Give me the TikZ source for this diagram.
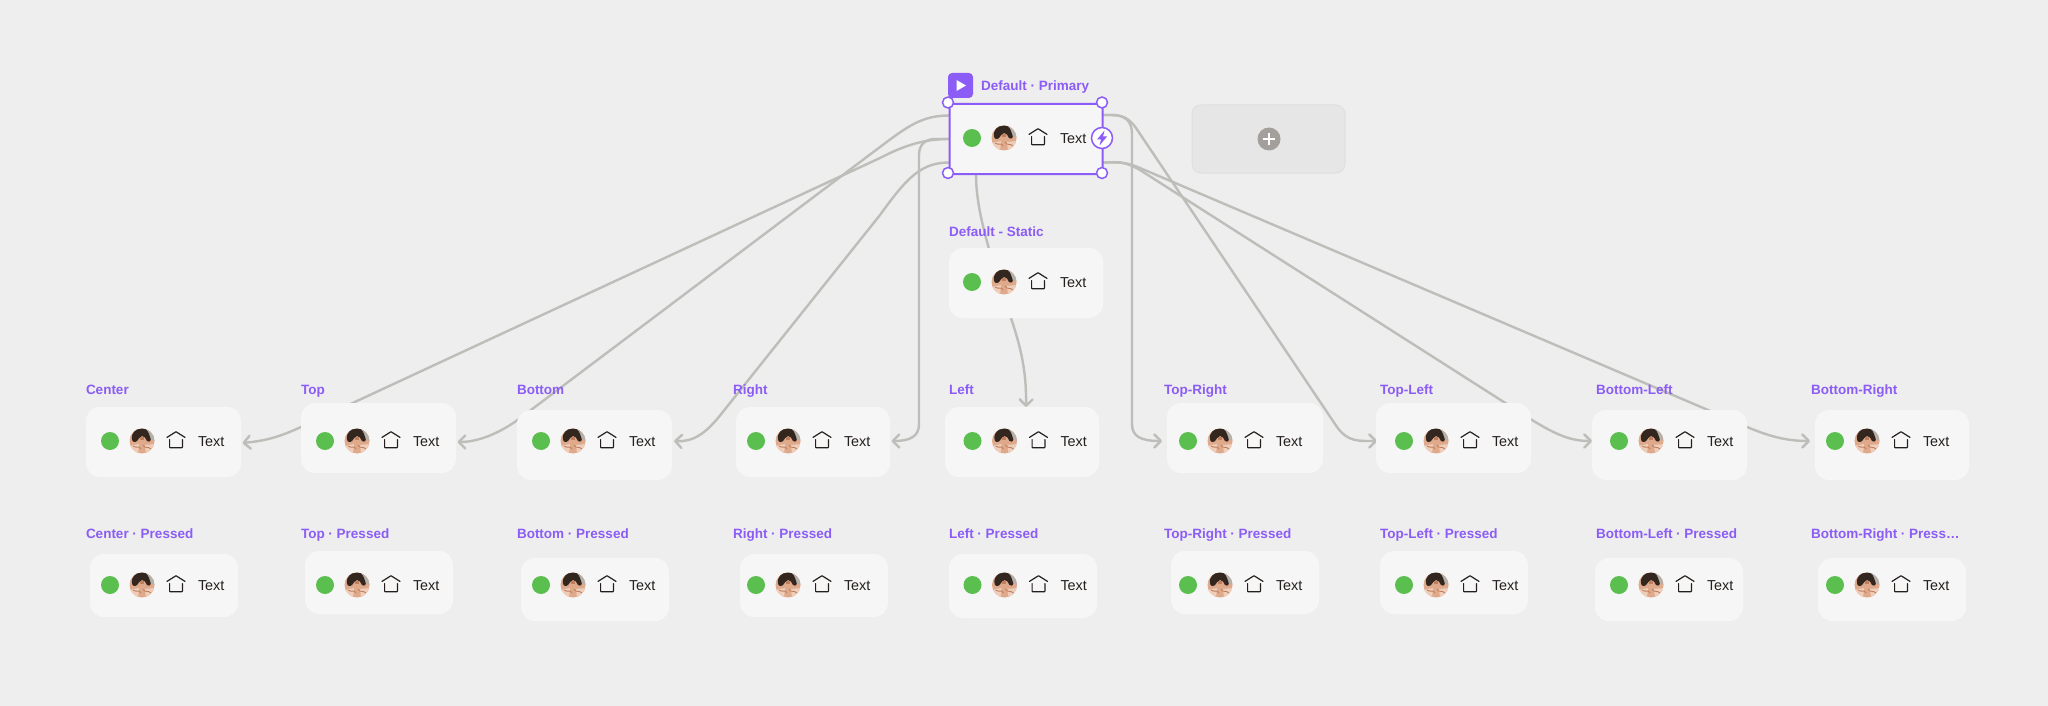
\documentclass[tikz,border=0pt]{standalone}
\usepackage{fontspec}
\setmainfont{Liberation Sans}
\usetikzlibrary{arrows.meta,calc}
\pgfdeclarelayer{paper}
\pgfdeclarelayer{wires}
\pgfsetlayers{paper,wires,main}
\definecolor{bgc}{HTML}{EEEEEE}
\definecolor{cardc}{HTML}{F6F6F6}
\definecolor{purp}{HTML}{8B5CF6}
\definecolor{wirec}{HTML}{BDBDB9}
\definecolor{greenc}{HTML}{5BBF50}
\definecolor{inkc}{HTML}{241F1C}
\definecolor{addc}{HTML}{E6E6E6}
\definecolor{addl}{HTML}{DFDFDF}
\definecolor{plusc}{HTML}{A3A09C}
\definecolor{skinc}{HTML}{DFAA8B}
\definecolor{hairc}{HTML}{33261F}
\definecolor{shadec}{HTML}{BE7F5F}
\definecolor{greyc}{HTML}{B5B0AA}
\definecolor{lightc}{HTML}{EFCDB8}
\tikzset{
  x=1pt,y=-1pt,
  cardn/.style={rectangle,rounded corners=14pt,fill=cardc,inner sep=0pt,outer sep=0pt},
  labeln/.style={anchor=base west,inner sep=0pt,outer sep=0pt,text=purp,font=\fontsize{13.5}{16}\selectfont\bfseries},
  textn/.style={anchor=base west,inner sep=0pt,outer sep=0pt,text=inkc,font=\fontsize{14.4}{16}\selectfont},
  dotn/.style={circle,fill=greenc,minimum size=18pt,inner sep=0pt,outer sep=0pt},
  avatarn/.style={circle,minimum size=25pt,inner sep=0pt,outer sep=0pt,fill=skinc,path picture={
    \begin{scope}[shift={(path picture bounding box.center)}]
      \fill[greyc] (3,-13) -- (13,-9) -- (13,0) -- (7,-3) -- cycle;
      \fill[lightc] (-13,5) -- (-3,3) -- (-4,13) -- (-13,13) -- cycle;
      \fill[lightc] (3,4) -- (13,3) -- (13,13) -- (4,13) -- cycle;
      \fill[hairc] (-10,-2) .. controls (-11,-9) and (-5,-13) .. (0,-13)
        .. controls (5,-13) and (7,-8) .. (8,-4)
        .. controls (10,-1) and (8,2) .. (5,0)
        .. controls (4,-3) and (2,-5) .. (0,-5)
        .. controls (-2,-5) and (-3,-2) .. (-5,0)
        .. controls (-7,2) and (-10,1) .. (-10,-2) -- cycle;
      \fill[shadec] (-2.5,-4) rectangle (1.5,-1);
      \draw[shadec,line width=0.9pt] (-9,5) .. controls (-5,8) and (-3,4) .. (-1,8);
      \draw[shadec,line width=0.9pt] (1,4) .. controls (3,8) and (6,5) .. (9,8);
    \end{scope}}},
  wire/.style={draw=wirec,line width=2.4pt,line cap=round,line join=round},
  arrowwire/.style={wire,-{Straight Barb[length=6.5pt,width=13pt,round]}},
  handlen/.style={circle,fill=white,draw=purp,line width=1.5pt,minimum size=11pt,inner sep=0pt,outer sep=0pt},
  housei/.style={draw=inkc,line width=1.2pt,line join=round,line cap=round,rounded corners=0.6pt},
}
% name, x1, y1, x2, y2
\newcommand{\cardbox}[5]{%
  \pgfmathsetmacro{\cw}{#4-#2}\pgfmathsetmacro{\ch}{#5-#3}%
  \pgfmathsetmacro{\cx}{(#4+#2)/2}\pgfmathsetmacro{\cy}{(#5+#3)/2}%
  \node[cardn,minimum width=\cw pt,minimum height=\ch pt] (#1) at (\cx,\cy) {};%
}
% name, dot x, content y
\newcommand{\cardcontent}[3]{%
  \begin{scope}[shift={(#2,#3)}]
    \node[dotn] (#1-dot) at (0,0) {};
    \node[avatarn] (#1-avatar) at (32,0) {};
    \draw[housei] (57,-3.6) -- (66,-9.3) -- (75,-3.6);
    \draw[housei] (59.6,-1.4) -- (59.6,6.8) -- (72.4,6.8) -- (72.4,-1.4);
    \node[textn] (#1-text) at (88,5.3) {Text};
  \end{scope}%
}
\begin{document}
\begin{tikzpicture}
\useasboundingbox (0,0) rectangle (2048,706);
\begin{pgfonlayer}{paper}
  \fill[bgc] (0,0) rectangle (2048,706);
\end{pgfonlayer}

% Top cards
\node[cardn,draw=purp,line width=2pt,rounded corners=1pt,minimum width=153pt,minimum height=70pt] (primary) at (1026,139) {};
\cardcontent{primary}{972}{138}
\node[handlen] (h1) at (948,102.5) {};
\node[handlen] (h2) at (1102,102.5) {};
\node[handlen] (h3) at (948,173) {};
\node[handlen] (h4) at (1102,173) {};
\node[circle,fill=white,draw=purp,line width=1.5pt,minimum size=21pt,inner sep=0pt] (bolt) at (1102,138) {};
\fill[purp] (1104.5,130.5) -- (1097,139.5) -- (1101,139.5) -- (1099.5,145.5) -- (1107,136.5) -- (1103,136.5) -- cycle;
\node[rectangle,rounded corners=4pt,fill=purp,minimum size=25pt,inner sep=0pt] (playbox) at (960.5,85.5) {};
\fill[white] (956.5,80) -- (956.5,91) -- (966,85.5) -- cycle;
\node[labeln] (primarylabel) at (981,91) {Default · Primary};

\node[labeln] (staticlabel) at (949,236) {Default - Static};
\cardbox{static}{949}{248}{1103}{318}
\cardcontent{static}{972}{282}

\node[rectangle,rounded corners=9pt,fill=addc,draw=addl,line width=1pt,minimum width=153pt,minimum height=68pt,inner sep=0pt] (addbox) at (1268.5,139) {};
\node[circle,fill=plusc,minimum size=23pt,inner sep=0pt] (addplus) at (1269,139) {};
\draw[white,line width=2.4pt] (1263,139) -- (1275,139) (1269,133) -- (1269,145);

% Row 1
\cardbox{center}{86}{407}{241}{477}
\cardbox{top}{301}{403}{456}{473}
\cardbox{bottom}{517}{410}{672}{480}
\cardbox{right}{736}{407}{890}{477}
\cardbox{left}{945}{407}{1099}{477}
\cardbox{topright}{1167}{403}{1323}{473}
\cardbox{topleft}{1376}{403}{1531}{473}
\cardbox{bottomleft}{1592}{410}{1747}{480}
\cardbox{bottomright}{1815}{410}{1969}{480}
\cardcontent{center}{110}{441}
\cardcontent{top}{325}{441}
\cardcontent{bottom}{541}{441}
\cardcontent{right}{756}{441}
\cardcontent{left}{972.5}{441}
\cardcontent{topright}{1188}{441}
\cardcontent{topleft}{1404}{441}
\cardcontent{bottomleft}{1619}{441}
\cardcontent{bottomright}{1835}{441}
\node[labeln] (l1) at (86,394) {Center};
\node[labeln] (l2) at (301,394) {Top};
\node[labeln] (l3) at (517,394) {Bottom};
\node[labeln] (l4) at (733,394) {Right};
\node[labeln] (l5) at (949,394) {Left};
\node[labeln] (l6) at (1164,394) {Top-Right};
\node[labeln] (l7) at (1380,394) {Top-Left};
\node[labeln] (l8) at (1596,394) {Bottom-Left};
\node[labeln] (l9) at (1811,394) {Bottom-Right};

% Row 2
\cardbox{pcenter}{90}{554}{238}{617}
\cardbox{ptop}{305}{551}{453}{614}
\cardbox{pbottom}{521}{558}{669}{621}
\cardbox{pright}{740}{554}{888}{617}
\cardbox{pleft}{949}{554}{1097}{618}
\cardbox{ptopright}{1171}{551}{1319}{614}
\cardbox{ptopleft}{1380}{551}{1528}{614}
\cardbox{pbottomleft}{1595}{558}{1743}{621}
\cardbox{pbottomright}{1818}{558}{1966}{621}
\cardcontent{pcenter}{110}{585}
\cardcontent{ptop}{325}{585}
\cardcontent{pbottom}{541}{585}
\cardcontent{pright}{756}{585}
\cardcontent{pleft}{972.5}{585}
\cardcontent{ptopright}{1188}{585}
\cardcontent{ptopleft}{1404}{585}
\cardcontent{pbottomleft}{1619}{585}
\cardcontent{pbottomright}{1835}{585}
\node[labeln] (p1) at (86,538) {Center · Pressed};
\node[labeln] (p2) at (301,538) {Top · Pressed};
\node[labeln] (p3) at (517,538) {Bottom · Pressed};
\node[labeln] (p4) at (733,538) {Right · Pressed};
\node[labeln] (p5) at (949,538) {Left · Pressed};
\node[labeln] (p6) at (1164,538) {Top-Right · Pressed};
\node[labeln] (p7) at (1380,538) {Top-Left · Pressed};
\node[labeln] (p8) at (1596,538) {Bottom-Left · Pressed};
\node[labeln] (p9) at (1811,538) {Bottom-Right · Press…};

% Connectors, behind the cards
\begin{pgfonlayer}{wires}
  % to Center
  \draw[arrowwire] (primary.west)
     .. controls (925,139) and (905,145) .. (880,158)
     -- (301,427)
     .. controls (275,439) and (262,441) .. ([xshift=1.5pt,yshift=-1pt]center.east);
  % to Top
  \draw[arrowwire] ([yshift=23.5pt]primary.west)
     .. controls (922,115.5) and (908,126) .. (880,147)
     -- (527,413)
     .. controls (503,432) and (480,442) .. ([xshift=1.5pt,yshift=-4pt]top.east);
  % to Bottom
  \draw[arrowwire] ([yshift=-23.5pt]primary.west)
     .. controls (922,162.5) and (908,176) .. (880,215)
     -- (722,413)
     .. controls (705,435) and (692,442) .. ([xshift=2pt,yshift=4pt]bottom.east);
  % to Right
  \draw[arrowwire] (primary.west)
     -- (935,139) .. controls (925,139) and (919,145) .. (919,155)
     -- (919,424)
     .. controls (919,436) and (911,441) .. ([xshift=1.5pt,yshift=1pt]right.east);
  % to Left
  \draw[arrowwire] ([xshift=-50pt]primary.south)
     .. controls (976,205) and (985,235) .. (995,270)
     .. controls (1010,320) and (1027,350) .. ([xshift=4pt]left.north);
  % to Top-Right
  \draw[arrowwire] ([yshift=24pt]primary.east)
     -- (1112,115) .. controls (1126,115) and (1132,122) .. (1132,134)
     -- (1132,424)
     .. controls (1132,436) and (1140,441) .. ([xshift=-5pt,yshift=-3pt]topright.west);
  % to Top-Left
  \draw[arrowwire] ([yshift=24pt]primary.east)
     .. controls (1118,115) and (1126,114) .. (1136,128)
     -- (1337,427)
     .. controls (1348,442) and (1358,441) .. ([xshift=1pt,yshift=-3pt]topleft.west);
  % to Bottom-Left
  \draw[arrowwire] ([yshift=-23.5pt]primary.east)
     .. controls (1118,162) and (1124,161) .. (1140,170)
     -- (1532,420)
     .. controls (1558,436) and (1572,441) .. ([yshift=4pt]bottomleft.west);
  % to Bottom-Right
  \draw[arrowwire] ([yshift=-23.5pt]primary.east)
     .. controls (1120,162) and (1126,162) .. (1140,168)
     -- (1708,410) -- (1747,427)
     .. controls (1773,438) and (1790,441) .. ([xshift=-5pt,yshift=4pt]bottomright.west);
\end{pgfonlayer}
\end{tikzpicture}
\end{document}
